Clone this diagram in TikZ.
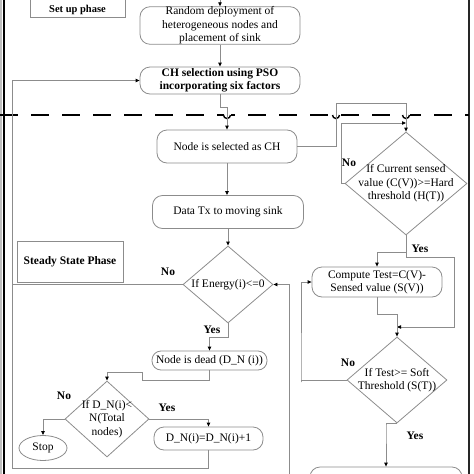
\documentclass[tikz,border=0pt]{standalone}
\usepackage{fontspec}
\setmainfont{Liberation Serif}
\usetikzlibrary{shapes.geometric,arrows.meta,calc}
\definecolor{lg}{HTML}{8C8C8C}
\begin{document}
\begin{tikzpicture}[x=1pt,y=-1pt,
  every node/.style={font=\fontsize{11.5}{13.5}\selectfont},
  rbox/.style={draw=lg,line width=0.8pt,rounded corners=10pt,align=center,inner sep=0pt},
  pbox/.style={draw=lg,line width=0.8pt,rectangle,align=center,inner sep=0pt},
  dia/.style={draw=lg,line width=0.8pt,diamond,inner sep=0pt},
  conn/.style={draw=lg,line width=0.8pt},
  arr/.style={conn,-{Triangle[length=4pt,width=3.4pt,color=black]}},
  lab/.style={font=\fontsize{11.5}{13.5}\selectfont\bfseries}]
\useasboundingbox (0,0) rectangle (474,474);
\clip (0,0) rectangle (474,474);
% frame
\fill[black!25] (0,0) rectangle (2,474);
\draw[black,line width=2pt] (3.5,0) -- (3.5,474);
\draw[black!85,line width=1.8pt] (469,0) -- (469,474);
% dashed separator with jumps
\draw[black,line width=2.4pt,dash pattern=on 18pt off 13pt] (0,115) -- (469,115);
\foreach \jx in {227,336,406}{
  \fill[white] (\jx-3.5,112) rectangle (\jx+3.5,118);
  \draw[black,line width=1.4pt] (\jx-3.5,115) arc[start angle=180,end angle=0,radius=3.5];
}
% nodes
\node[pbox,minimum width=95pt,minimum height=27pt] (setup) at (77.5,3.5) {};
\node[lab,anchor=base,font=\fontsize{10.5}{12}\selectfont\bfseries] (setuptxt) at (77.5,12.5) {Set up phase};
\node[rbox,minimum width=160pt,minimum height=37pt] (rand) at (220,25.5)
  {Random deployment of\\heterogeneous nodes and\\placement of sink};
\node[rbox,minimum width=160pt,minimum height=27pt,font=\fontsize{11.5}{13.5}\selectfont\bfseries] (chsel) at (220,80.5)
  {CH selection using PSO\\incorporating six factors};
\node[rbox,minimum width=140pt,minimum height=33pt] (nsel) at (227,146.5) {Node is selected as CH};
\node[rbox,minimum width=151pt,minimum height=33pt] (datatx) at (228,212) {Data Tx to moving sink};
\node[pbox,minimum width=106pt,minimum height=41pt,font=\fontsize{11.5}{13.5}\selectfont\bfseries] (steady) at (70,261.5) {Steady State Phase};
\node[dia,minimum width=90pt,minimum height=77pt,label={center:If Energy(i)<=0}] (en) at (228,284.5) {};
\node[rbox,rounded corners=9pt,minimum width=115pt,minimum height=19pt] (dead) at (209.5,360.5) {Node is dead (D\_N (i))};
\node[dia,minimum width=84pt,minimum height=76pt,label={[align=center]center:If D\_N(i)<\\N(Total\\nodes)}] (dn) at (107,419) {};
\node[draw=lg,line width=0.8pt,ellipse,minimum width=48pt,minimum height=25pt,inner sep=0pt] (stop) at (43,448) {Stop};
\node[rbox,minimum width=109pt,minimum height=23pt] (inc) at (208.5,438.5) {D\_N(i)=D\_N(i)+1};
\node[dia,minimum width=122pt,minimum height=103pt,label={[align=center]center:If Current sensed\\value (C(V))>=Hard\\threshold (H(T))}] (hd) at (406,183.5) {};
\node[rbox,minimum width=130pt,minimum height=30pt] (cmp) at (377,282) {Compute Test=C(V)-\\Sensed value (S(V))};
\node[dia,minimum width=100pt,minimum height=86pt,label={[align=center]center:If Test>= Soft\\Threshold (S(T))}] (sd) at (397,380) {};
\node[rbox,minimum width=152pt,minimum height=32pt] (bot) at (386,483) {};
% coordinates
\coordinate (topin) at (220,-5);
\coordinate (j1) at (227,107);
\coordinate (j2) at (336,103);
\coordinate (lb) at (12,468);
\coordinate (d1) at (142,380);
\coordinate (d2) at (142,372);
\coordinate (h1) at (341,123);
\coordinate (h2) at (406,123);
\coordinate (y1) at (406,252);
\coordinate (y2) at (406,257);
\coordinate (y3) at (454,327);
\coordinate (y4) at (397,327);
\coordinate (c1) at (377,314);
\coordinate (s1) at (301,382);
\coordinate (s2) at (386,425);
\coordinate (e1) at (289,474);
% connectors
\draw[arr] (topin) -- (rand.north);
\draw[arr] (rand.south) -- (chsel.north);
\draw[arr] (chsel.south) |- (j1) -- (nsel.north);
\draw[arr] (nsel.east) -| (j2) -| (hd.north);
\draw[arr] (nsel.south) -- (nsel.south |- datatx.north);
\draw[arr] (datatx.south) -- (datatx.south |- en.north);
\draw[conn] (en.west) -- (en.west -| lb);
\draw[arr] (inc.south) |- (lb) |- (chsel.west);
\draw[arr] (en.south) -- ++(0,14) -| (dead.north);
\draw[arr] (dead.south) |- (d1) -- (d2) -| (dn.north);
\draw[arr] (dn.west) -| (stop.north);
\draw[arr] (dn.east) -| (inc.north);
\draw[arr] (hd.west) -| (h1) -- (h2);
\draw[arr] (hd.south) -- (y1) -| (cmp.north);
\draw[arr] (y1) -- (y2) -| (y3) -- (y4);
\draw[arr] (cmp.south) |- (c1) -| (sd.north);
\draw[arr] (sd.west) -| (s1) |- (cmp.west);
\draw[arr] (sd.south) -| (s2) -- (s2 |- bot.north);
\draw[arr] (e1) |- (en.east);
% labels
\node[lab] (l1) at (168,272) {No};
\node[lab] (l2) at (212,330) {Yes};
\node[lab] (l3) at (64,396) {No};
\node[lab] (l4) at (167,408) {Yes};
\node[lab] (l5) at (349,163) {No};
\node[lab] (l6) at (420,249) {Yes};
\node[lab] (l7) at (348,363) {No};
\node[lab] (l8) at (415,436) {Yes};
\end{tikzpicture}
\end{document}
